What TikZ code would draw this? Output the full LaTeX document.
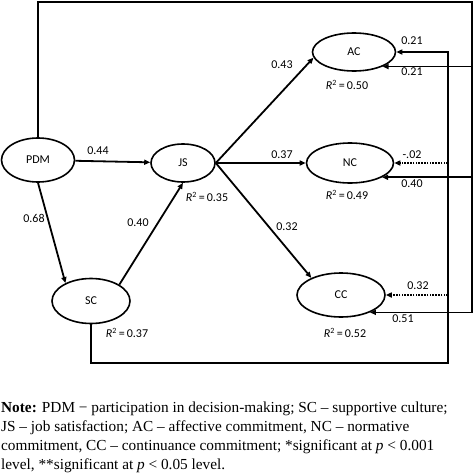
\documentclass[tikz,border=0pt]{standalone}
\usepackage{fontspec}
\setmainfont{Carlito}
\newfontfamily\notefont{Liberation Serif}
\usetikzlibrary{positioning,arrows.meta,calc,shapes.geometric}

\newcommand{\rsq}[1]{\textit{R}\textsuperscript{2}\,=\,#1}

\begin{document}
\begin{tikzpicture}[x=1pt,y=-1pt,
  font=\fontsize{12}{14}\selectfont,
  latent/.style={draw,ellipse,line width=1.6pt,inner sep=0pt},
  path/.style={-{Triangle[length=6pt,width=5pt]},line width=1.8pt},
  dots/.style={path,dash pattern=on 1.6pt off 1.2pt},
  lbl/.style={inner sep=0pt}
]
\useasboundingbox (0,0) rectangle (474,474);
% latent variables
\node[latent,minimum width=73pt,minimum height=44pt] (pdm) at (38,160) {PDM};
\node[latent,minimum width=64pt,minimum height=38pt] (js)  at (183,163) {JS};
\node[latent,minimum width=78pt,minimum height=45pt] (sc)  at (91,301) {SC};
\node[latent,minimum width=83pt,minimum height=38pt] (ac)  at (354,52) {AC};
\node[latent,minimum width=87pt,minimum height=40pt] (nc)  at (350,163) {NC};
\node[latent,minimum width=88pt,minimum height=44pt] (cc)  at (341,295) {CC};
% corners of the two return lines
\coordinate (rtop) at (472,2);
\coordinate (sbr)  at (448,363);
% paths
\draw[path] (pdm) -- (js);
\draw[path] (pdm.south) -- (sc.145);
\draw[path] (sc.30) -- (js.south);
\draw[path] (js.east) -- (ac.188);
\draw[path] (js.east) -- (nc.west);
\draw[path] (js.east) -- (cc.150);
\draw[path] (pdm.north) |- (rtop) |- (cc.-31);
\draw[path] (ac.-27 -| rtop) -- (ac.-27);
\draw[path] (nc.-24 -| rtop) -- (nc.-24);
\draw[path] (sc.south) |- (sbr) |- (ac.east);
\draw[dots] (nc.east -| sbr) -- (nc.east);
\draw[dots] (cc.east -| sbr) -- (cc.east);
% coefficients
\node[lbl] (l1)  at (98,151)  {0.44};
\node[lbl] (l2)  at (34,218)  {0.68};
\node[lbl] (l3)  at (138,223) {0.40};
\node[lbl] (l4)  at (282,65)  {0.43};
\node[lbl] (l5)  at (282,155) {0.37};
\node[lbl] (l6)  at (287,227) {0.32};
\node[lbl] (l7)  at (412,41)  {0.21};
\node[lbl] (l8)  at (412,72)  {0.21};
\node[lbl] (l9)  at (412,155) {-.02};
\node[lbl] (l10) at (412,184) {0.40};
\node[lbl] (l11) at (418,286) {0.32};
\node[lbl] (l12) at (403,319) {0.51};
% explained variance
\node[lbl] (r1) at (207,197) {\rsq{0.35}};
\node[lbl] (r2) at (127,333) {\rsq{0.37}};
\node[lbl] (r3) at (347,85)  {\rsq{0.50}};
\node[lbl] (r4) at (347,195) {\rsq{0.49}};
\node[lbl] (r5) at (345,333) {\rsq{0.52}};
% note
\node[anchor=north west,inner sep=0pt,align=left,
  font=\notefont\fontsize{15.3}{19}\selectfont] (note) at (1,401.5)
  {\textbf{Note:} PDM − participation in decision-making; SC – supportive culture;\\
   JS – job satisfaction; AC – affective commitment, NC – normative\\
   commitment, CC – continuance commitment; *significant at \textit{p} < 0.001\\
   level, **significant at \textit{p} < 0.05 level.};
\end{tikzpicture}
\end{document}
